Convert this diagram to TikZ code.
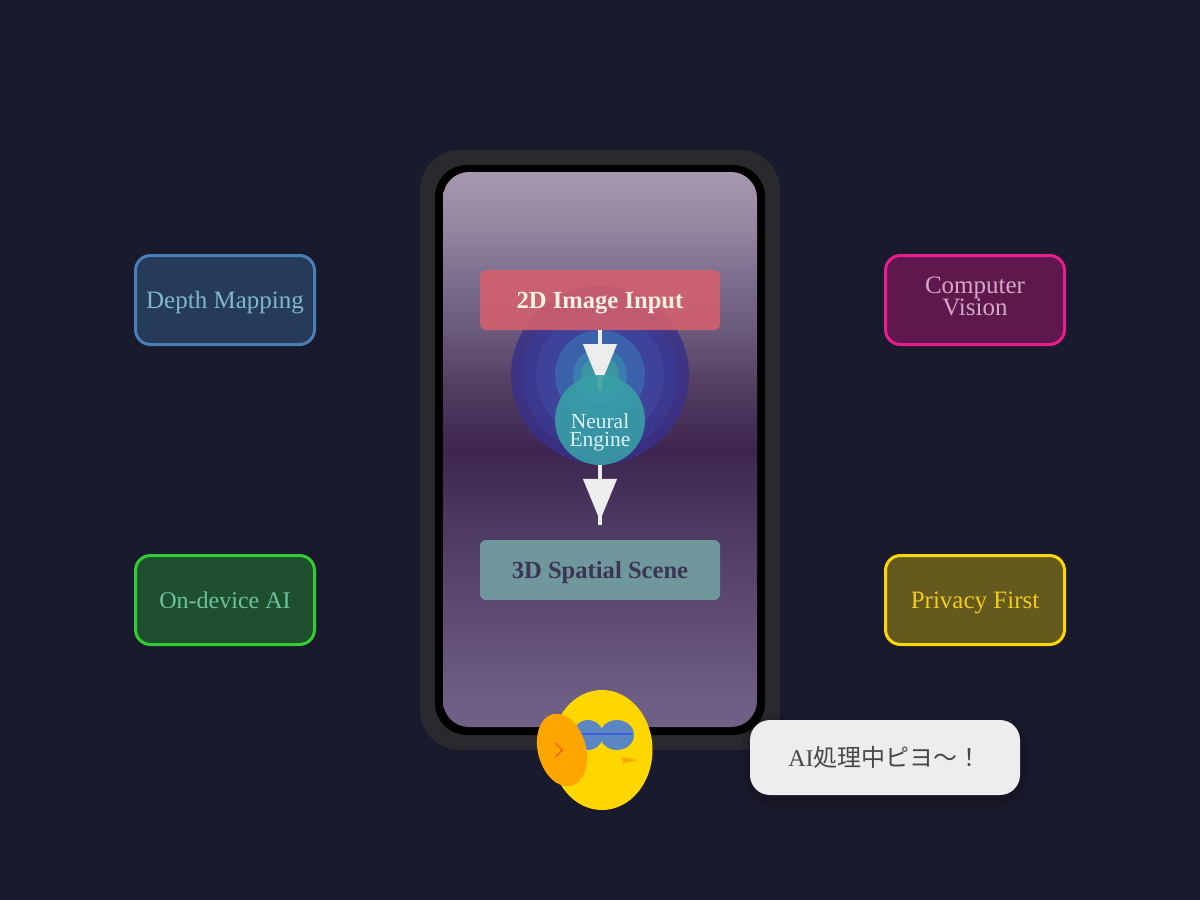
\documentclass[tikz,border=0pt]{standalone}
\usepackage{fontspec}
\setmainfont{Liberation Serif}
\newfontfamily\jpfont{Noto Sans CJK JP}
\usetikzlibrary{arrows.meta}
\definecolor{night}{HTML}{1A1A2E}
\definecolor{casing}{HTML}{2A2A2E}
\definecolor{hen}{HTML}{FFD700}
\definecolor{wingc}{HTML}{FFA500}
\definecolor{eyec}{HTML}{5B86C4}
\definecolor{fadej}{HTML}{A698AE}
\definecolor{fadei}{HTML}{94869F}
\definecolor{fadeh}{HTML}{7F7293}
\definecolor{fadeg}{HTML}{6A5A7E}
\definecolor{fadef}{HTML}{523C60}
\definecolor{fadee}{HTML}{3D2550}
\definecolor{faded}{HTML}{4D3A62}
\definecolor{fadec}{HTML}{5C4870}
\definecolor{fadeb}{HTML}{6A5A80}
\definecolor{fadea}{HTML}{706286}
\pgfdeclareverticalshading{screenfade}{100bp}{
  color(0bp)=(fadea);color(25bp)=(fadea);
  color(29.2bp)=(fadeb);color(36.4bp)=(fadec);color(42.8bp)=(faded);
  color(50bp)=(fadee);color(55.4bp)=(fadef);color(60.8bp)=(fadeg);
  color(66.2bp)=(fadeh);color(69.8bp)=(fadei);color(75bp)=(fadej);color(100bp)=(fadej)}
\tikzset{
  tag/.style={draw=#1, line width=3pt, rounded corners=15pt, minimum width=179pt, minimum height=89pt,
    align=center, inner sep=0pt, font=\fontsize{25}{22}\selectfont},
  oneline/.style={text height=16pt, text depth=0pt},
  stage/.style={rounded corners=6pt, minimum width=240pt, minimum height=60pt, inner sep=0pt,
    oneline, font=\fontsize{24.6}{24}\selectfont\bfseries},
  ring/.style={circle, fill=#1, fill opacity=.82, draw=none, inner sep=0pt},
  flow/.style={draw=white!92!night, line width=4.5pt,
    postaction={draw=white!92!night, -{Triangle[length=42pt,width=33pt]}, shorten >=#1+4pt}, shorten >=#1},
}
\begin{document}
\begin{tikzpicture}[x=1pt,y=-1pt]
  \useasboundingbox (0,0) rectangle (1200,900);
  \fill[night] (0,0) rectangle (1200,900);

  % handset
  \fill[casing, rounded corners=40pt] (420,150) rectangle (780,750);
  \fill[black, rounded corners=32pt] (435,165) rectangle (765,735);
  \path[rounded corners=26pt, shading=screenfade] (443,172) rectangle (757,727);

  % glow rings behind the engine
  \foreach \r/\c in {89/38308A, 78/3B3A92, 64/3F459C, 45/3A68AE, 27/3B82B2, 19/3A9A9E} {
    \definecolor{ringc}{HTML}{\c}
    \node[ring=ringc, minimum size=2*\r pt] at (600,375) {};
  }

  % stages of the pipeline
  \definecolor{inputc}{HTML}{D8606C}
  \definecolor{scenec}{HTML}{6F979C}
  \definecolor{scenetx}{HTML}{3C3558}
  \definecolor{enginec}{HTML}{38A0A6}
  \node[stage, fill=inputc, fill opacity=.86, text opacity=1, text=white!88!orange] (input) at (600,300) {2D Image Input};
  \node[stage, fill=scenec, text=scenetx] (scene) at (600,570) {3D Spatial Scene};
  \coordinate (enginemid) at (600,420);
  \draw[flow=30pt] (input.south) -- (enginemid);
  \node[circle, fill=enginec, fill opacity=.88, text opacity=1, text=white!85!cyan, minimum size=90pt, inner sep=0pt,
        align=center, text height=58pt, font=\fontsize{21.5}{18}\selectfont] (engine) at (enginemid) {Neural\\Engine};
  \draw[flow=15pt] (engine.south) -- (scene.north);

  % feature tags
  \definecolor{tfa}{HTML}{263A5C}\definecolor{sta}{HTML}{4A7FB5}\definecolor{txa}{HTML}{7FB8C8}
  \definecolor{tfb}{HTML}{5F184E}\definecolor{stb}{HTML}{E91E8C}\definecolor{txb}{HTML}{D4A8C4}
  \definecolor{tfc}{HTML}{1E4F2E}\definecolor{stc}{HTML}{32CD32}\definecolor{txc}{HTML}{6EC0A0}
  \definecolor{tfd}{HTML}{655A1E}\definecolor{std}{HTML}{FFD700}\definecolor{txd}{HTML}{F2CB1C}
  \node[tag=sta, oneline, fill=tfa, text=txa] (depth) at (225,300) {Depth Mapping};
  \node[tag=stb, fill=tfb, text=txb, text depth=8pt] (vision) at (975,300) {Computer\\Vision};
  \node[tag=stc, oneline, fill=tfc, text=txc, font=\fontsize{24}{22}\selectfont] (device) at (225,600) {On-device AI};
  \node[tag=std, oneline, fill=tfd, text=txd] (privacy) at (975,600) {Privacy First};

  % chick mascot
  \fill[hen] (602,750) ellipse [x radius=50.5, y radius=60];
  \fill[eyec] (588,735) ellipse [x radius=15, y radius=15];
  \fill[eyec] (617,735) ellipse [x radius=17, y radius=15];
  \draw[color=eyec!70!blue, line width=1.5pt] (575,734) -- (632,734);
  \fill[wingc, rotate around={15:(562,750)}] (562,750) ellipse [x radius=24, y radius=37];
  \draw[color=orange!60!purple, line width=.8pt] (555,743) -- (562.5,750) -- (555.5,757);
  \fill[wingc] (622.3,757) -- (637,760) -- (623,763.5) -- cycle;

  % speech bubble with a soft shadow
  \foreach \g in {10,8,6,4,2}
    \fill[black, opacity=.03, rounded corners=20pt+\g pt] (750-\g,724-\g) rectangle (1020+\g,799+\g);
  \node[fill=white!92!night, rounded corners=20pt, minimum width=270pt, minimum height=75pt, inner sep=0pt,
        text=black!72, font=\fontsize{24}{24}\selectfont] (bubble) at (885,757.5)
        {AI{\jpfont\fontsize{24}{24}\selectfont 処理中ピヨ〜！}};
\end{tikzpicture}
\end{document}
